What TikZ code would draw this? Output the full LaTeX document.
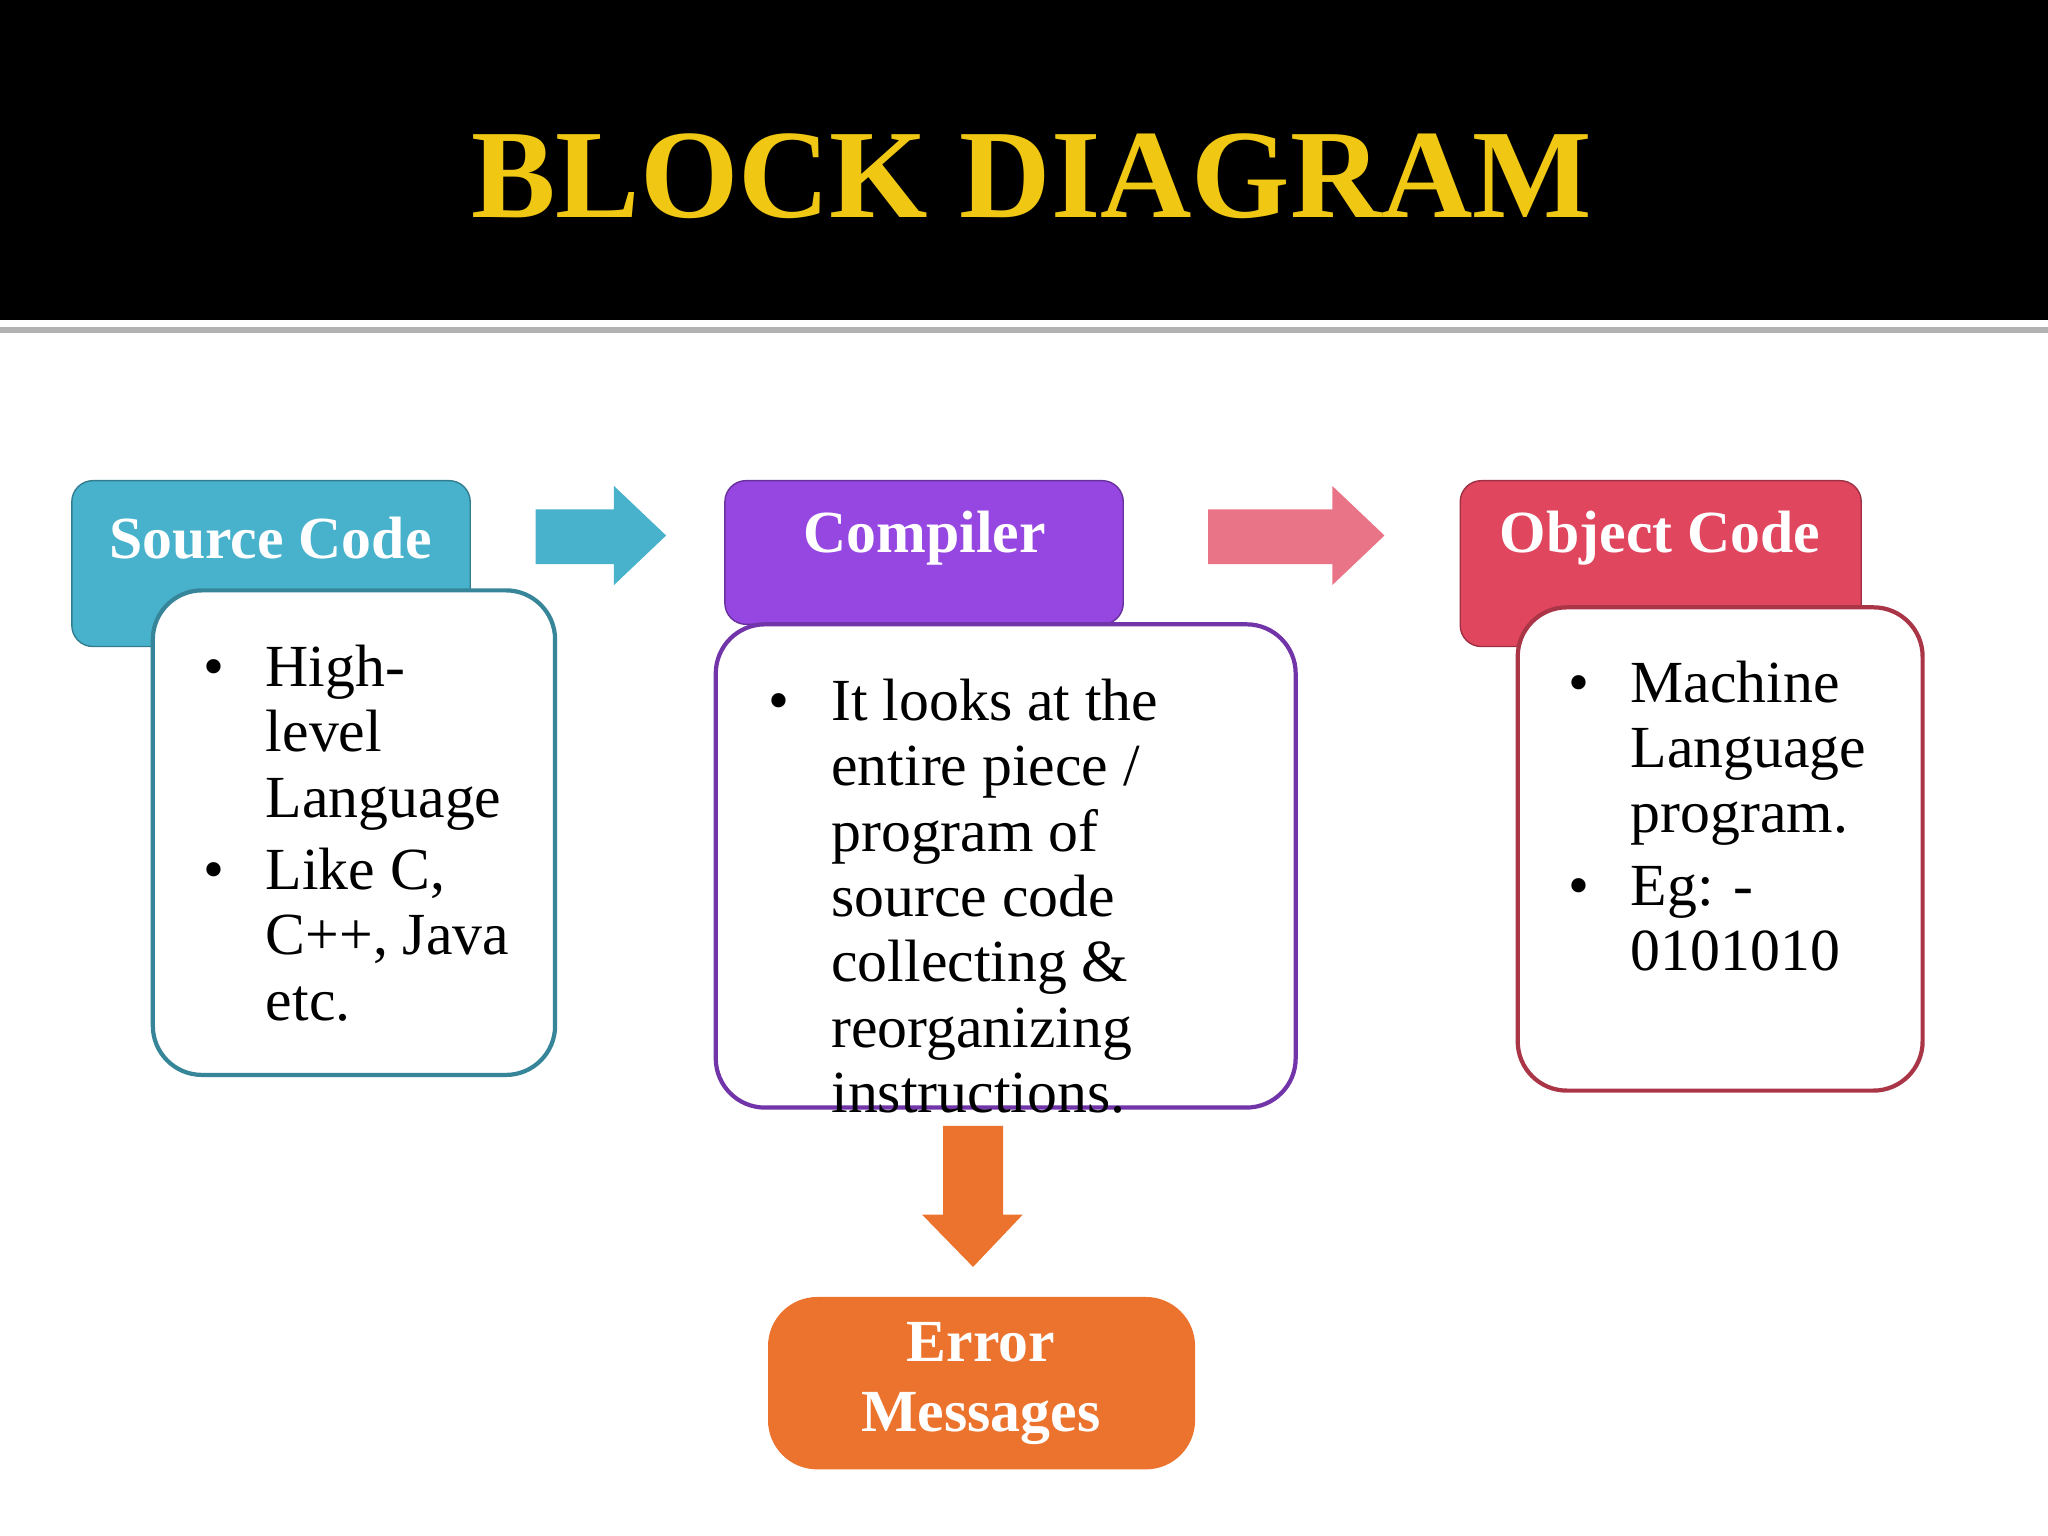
\documentclass[tikz,border=0pt]{standalone}
\usepackage{fontspec}
\setmainfont{Liberation Serif}
\usetikzlibrary{positioning}
\definecolor{teal}{RGB}{72,178,204}
\definecolor{violet}{RGB}{150,70,225}
\definecolor{rose}{RGB}{225,70,95}
\definecolor{tangerine}{RGB}{235,115,45}
\definecolor{gold}{RGB}{240,200,20}
\tikzset{
  headtxt/.style={text=white, align=center, font=\fontsize{17}{20}\selectfont\bfseries},
  headbox/.style={fill=#1, draw=#1!70!black, rounded corners=6pt},
  bodybox/.style={draw=#1!75!black, line width=1.2pt, fill=white, rounded corners=14pt},
  txt/.style={anchor=north west, inner sep=0pt, font=\fontsize{17}{18.6}\selectfont}
}
\newcommand{\bul}[1]{\begin{tabular}[t]{@{}l@{\hspace{0.7em}}l@{}}#1\end{tabular}}
\begin{document}
\begin{tikzpicture}[x=0.01306cm, y=-0.01306cm]
  \useasboundingbox (0,0) rectangle (1568,1176);
  \fill[black] (0,0) rectangle (1568,245);
  \fill[gray!60] (0,250) rectangle (1568,255);
  \node[text=gold, font=\fontsize{36}{40}\selectfont\bfseries] (title) at (790,135) {BLOCK DIAGRAM};

  % source code
  \draw[headbox=teal] (55,368) rectangle (360,495);
  \node[headtxt] (srctitle) at (207,412) {Source Code};
  \draw[bodybox=teal] (117,452) rectangle (425,823);
  \node[txt] (srctext) at (155,490) {\bul{\textbullet & High-\\ & level\\ & Language\\[2pt]
    \textbullet & Like C,\\ & C++, Java\\ & etc.}};

  % compiler
  \draw[headbox=violet] (555,368) rectangle (860,478);
  \node[headtxt] (comptitle) at (708,412) {Compiler};
  \draw[bodybox=violet] (548,478) rectangle (992,848);
  \node[txt] (comptext) at (588,516) {\bul{\textbullet & It looks at the\\ & entire piece /\\ & program of\\
    & source code\\ & collecting \&\\ & reorganizing\\ & instructions.}};

  % object code
  \draw[headbox=rose] (1118,368) rectangle (1425,495);
  \node[headtxt] (objtitle) at (1271,412) {Object Code};
  \draw[bodybox=rose] (1162,465) rectangle (1472,835);
  \node[txt] (objtext) at (1200,502) {\bul{\textbullet & Machine\\ & Language\\ & program.\\[2pt]
    \textbullet & Eg: -\\ & 0101010}};

  % error messages
  \fill[tangerine, rounded corners=14pt] (588,993) rectangle (915,1125);
  \node[headtxt] (errtitle) at (751,1059) {Error\\Messages};

  % block arrows
  \fill[teal] (410,390) -- (470,390) -- (470,372) -- (510,410) -- (470,448) -- (470,432) -- (410,432) -- cycle;
  \fill[rose!75] (925,390) -- (1020,390) -- (1020,372) -- (1060,410) -- (1020,448) -- (1020,432) -- (925,432) -- cycle;
  \fill[tangerine] (722,862) -- (768,862) -- (768,930) -- (783,930) -- (745,970) -- (706,930) -- (722,930) -- cycle;
\end{tikzpicture}
\end{document}
